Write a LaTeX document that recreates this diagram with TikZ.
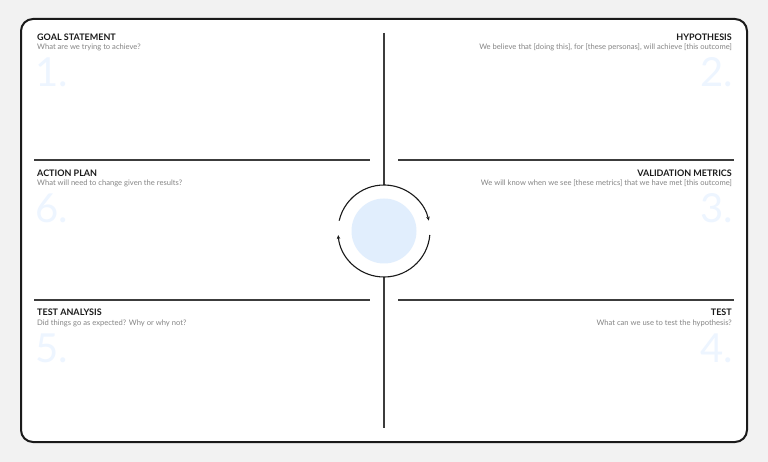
\documentclass[tikz,border=0pt]{standalone}
\usepackage{fontspec}
\setmainfont{Lato}
\usetikzlibrary{arrows.meta}
\definecolor{bggray}{HTML}{F2F2F2}
\definecolor{numblue}{HTML}{EDF5FF}
\definecolor{hubblue}{HTML}{E1EEFD}
\definecolor{askgray}{HTML}{858585}
\definecolor{inkdark}{HTML}{1A1A1A}
\tikzset{
  frame/.style={draw=inkdark, line width=2pt, rounded corners=12pt, fill=white},
  rule/.style={draw=inkdark!85, line width=1.2pt},
  head/.style={font=\bfseries\fontsize{9}{10}\selectfont, text=inkdark, inner sep=0pt},
  ask/.style={font=\fontsize{7.6}{8}\selectfont, text=askgray, inner sep=0pt},
  num/.style={font=\fontsize{40}{40}\selectfont, text=numblue, inner sep=0pt},
  hub/.style={circle, fill=hubblue, minimum size=65pt, inner sep=0pt},
  turn/.style={draw=inkdark, line width=1.1pt, -{Stealth[length=4pt,width=3.5pt]}}
}
\begin{document}
\begin{tikzpicture}[x=1pt,y=1pt]
    \useasboundingbox[fill=bggray] (0,0) rectangle (768,-462);
    \draw[frame] (21,-19) rectangle (747,-442);
    % left column
    \foreach \n/\y/\head/\ask in {1/41/GOAL STATEMENT/What are we trying to achieve?,
        6/177/ACTION PLAN/What will need to change given the results?,
        5/316/TEST ANALYSIS/Did things go as expected? Why or why not?} {
        \node[head, anchor=base west] (head\n) at (37,-\y) {\head};
        \node[ask, anchor=base west] (ask\n) at (37,-\y-9) {\ask};
        \node[num, anchor=base west] (num\n) at (35,-\y-46) {\n.};
    }
    % right column
    \foreach \n/\y/\head/\ask in {2/41/HYPOTHESIS/{We believe that [doing this], for [these personas], will achieve [this outcome]},
        3/177/VALIDATION METRICS/We will know when we see [these metrics] that we have met [this outcome],
        4/316/TEST/What can we use to test the hypothesis?} {
        \node[head, anchor=base east] (head\n) at (732,-\y) {\head};
        \node[ask, anchor=base east] (ask\n) at (732,-\y-9) {\ask};
        \node[num, anchor=base east] (num\n) at (733,-\y-46) {\n.};
    }
    % dividers
    \foreach \y in {160,300} {
        \draw[rule] (34,-\y) -- (370,-\y);
        \draw[rule] (398,-\y) -- (734,-\y);
    }
    \node[hub] (hub) at (384,-231) {};
    \coordinate (top) at (384,-33);
    \coordinate (bottom) at (384,-428);
    \draw[rule] (top) -- ([yshift=46pt]hub.center);
    \draw[rule] ([yshift=-46pt]hub.center) -- (bottom);
    \draw[turn] (hub.center) ++(167:46) arc[start angle=167, end angle=13, radius=46];
    \draw[turn] (hub.center) ++(-5:46) arc[start angle=-5, end angle=-175, radius=46];
\end{tikzpicture}
\end{document}
